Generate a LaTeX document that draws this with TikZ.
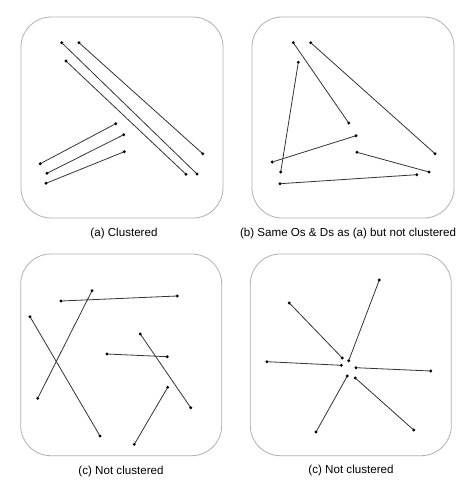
\documentclass[tikz,border=0pt]{standalone}
\usepackage{fontspec}
\setmainfont{Liberation Sans}
\definecolor{boxgray}{HTML}{B0B0B0}
\definecolor{lineink}{HTML}{333333}
\newcommand\odseg[3]{%
  \node[odpt] (#1s) at (#2) {};
  \node[odpt] (#1e) at (#3) {};
  \draw[odline] (#1s) -- (#1e);
}
\begin{document}
\begin{tikzpicture}[x=1pt,y=-1pt,
  odpt/.style={circle,fill=black,inner sep=0pt,minimum size=3.2pt},
  odline/.style={draw=lineink,line width=0.8pt,shorten >=-0.5pt,shorten <=-0.5pt},
  panel/.style={draw=boxgray,line width=0.8pt,rounded corners=30pt},
  captxt/.style={font=\fontsize{11.6}{14}\selectfont,inner sep=0pt}]
\useasboundingbox (0,0) rectangle (474,493);
% panel (a)
\draw[panel] (21,17) rectangle (223,218);
\node[captxt] (capa) at (124,233) {(a) Clustered};
\odseg{a1}{61.7,42.7}{197,174}
\odseg{a2}{79,42.7}{202.7,153.7}
\odseg{a3}{66,61}{186,174.3}
\odseg{a4}{40.3,163.7}{115.7,123.7}
\odseg{a5}{47,173.3}{123.7,134.7}
\odseg{a6}{46,183.3}{124.3,151.7}
% panel (b)
\draw[panel] (252,17) rectangle (454,218);
\node[captxt] (capb) at (348,233) {(b) Same Os \& Ds as (a) but not clustered};
\odseg{b1}{293.3,42.7}{348.7,123}
\odseg{b2}{310.7,42.7}{435,153.7}
\odseg{b3}{298.3,62.3}{280.7,172}
\odseg{b4}{272.3,162}{356,135.7}
\odseg{b5}{357,152.3}{429,172}
\odseg{b6}{280,183.7}{416.7,174.7}
% panel (c)
\draw[panel] (20.7,254) rectangle (221.7,455.7);
\node[captxt] (capc) at (121,471.5) {(c) Not clustered};
\odseg{c1}{61,301}{177.3,296}
\odseg{c2}{92,290.7}{37.7,398.3}
\odseg{c3}{30,316.7}{100,436}
\odseg{c4}{107,354}{167.3,356.7}
\odseg{c5}{140.3,334}{190.7,407.7}
\odseg{c6}{167.7,387.3}{134.3,444.3}
% panel (d)
\draw[panel] (250.3,254) rectangle (451.3,455.7);
\node[captxt] (capd) at (351,470) {(c) Not clustered};
\odseg{d1}{289.3,303}{342.3,358}
\odseg{d2}{379.3,280}{348.7,360.7}
\odseg{d3}{267,361.7}{341.3,365.3}
\odseg{d4}{356,367.7}{430.7,371}
\odseg{d5}{347.3,376}{316,432}
\odseg{d6}{355.3,378}{413.7,430}
\end{tikzpicture}
\end{document}
